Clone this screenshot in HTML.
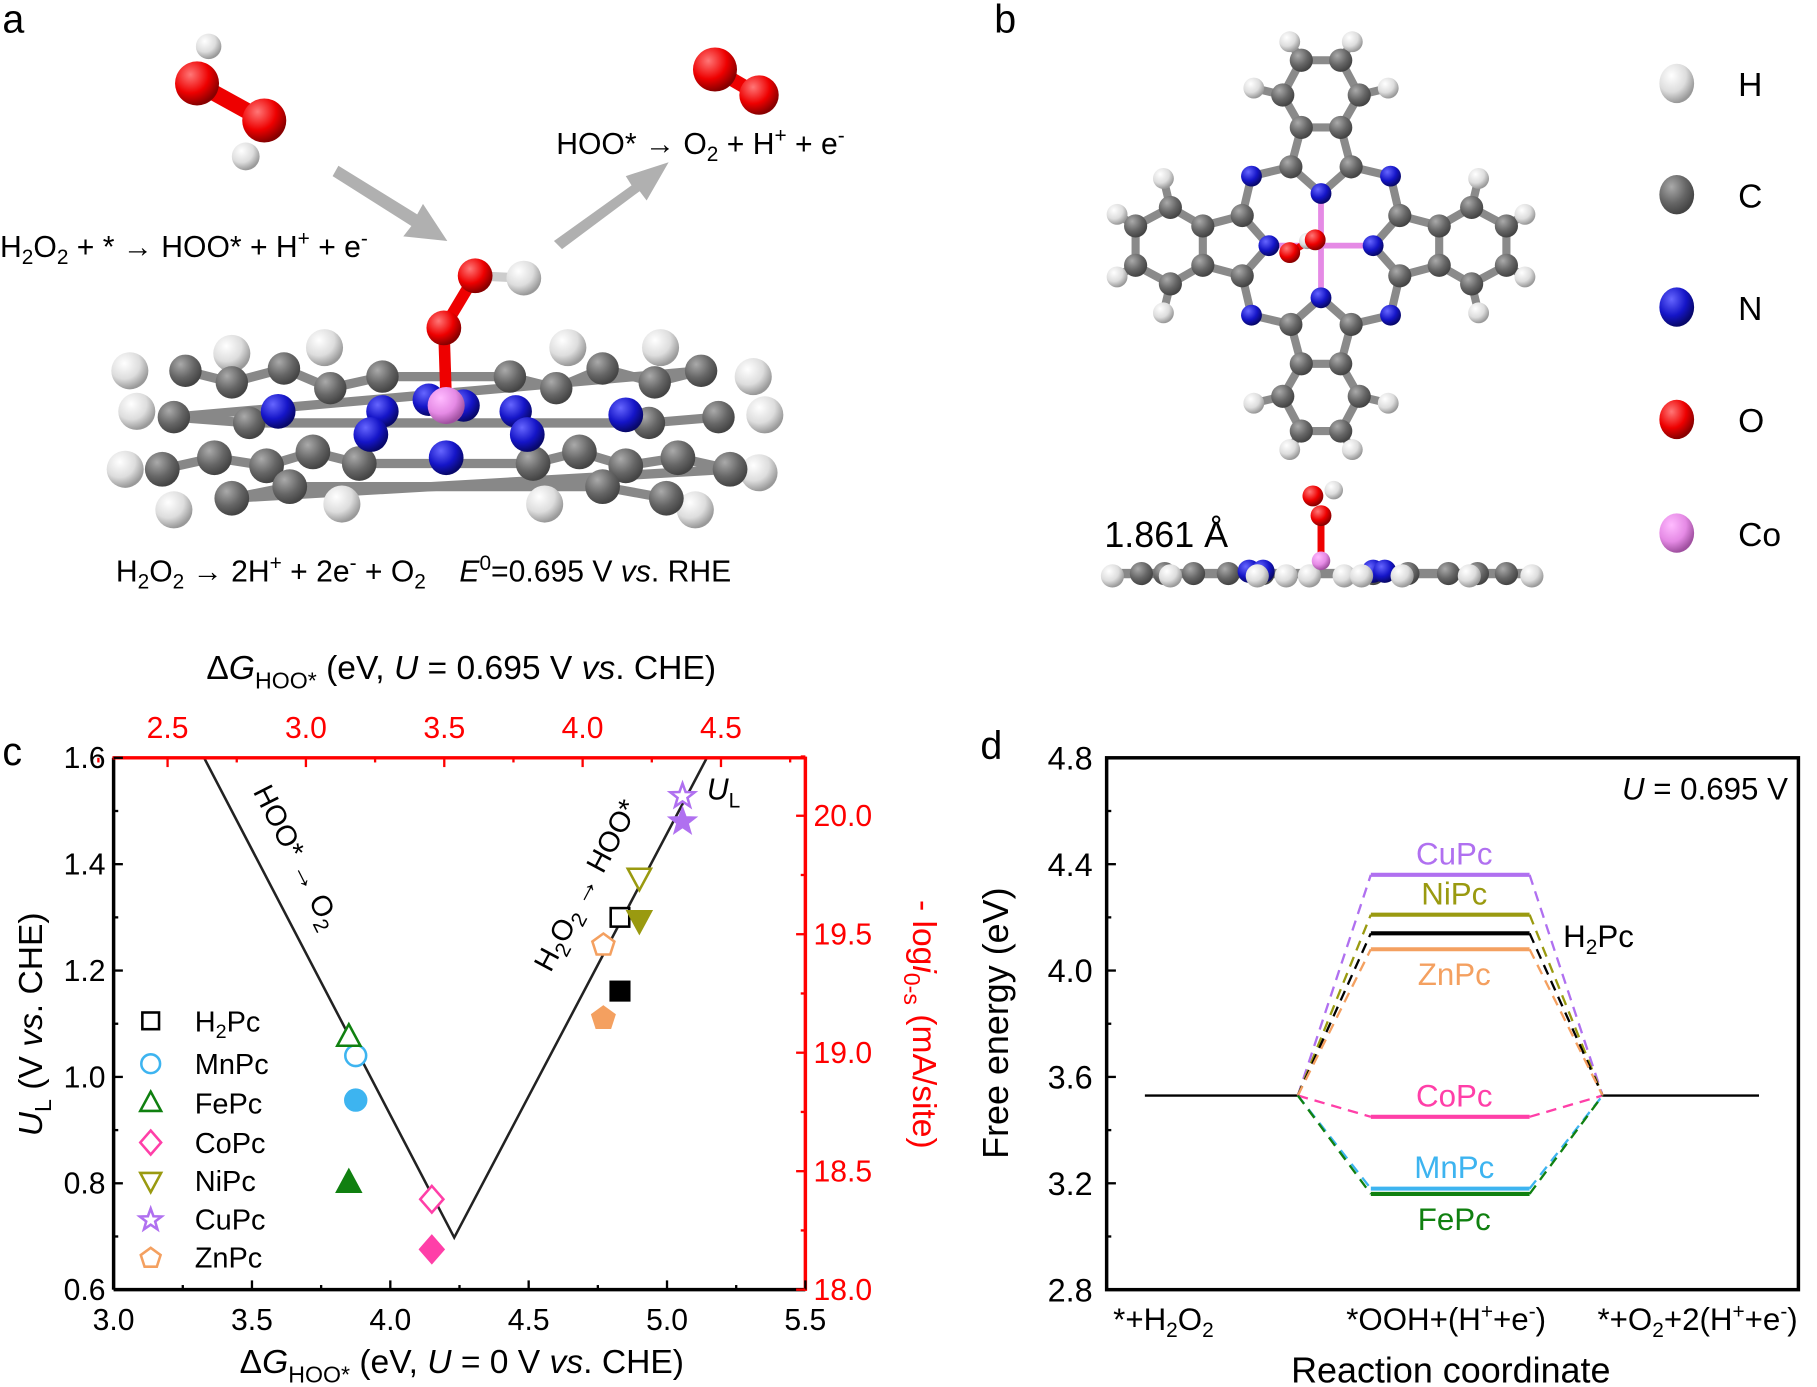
<!DOCTYPE html>
<html><head><meta charset="utf-8"><style>
html,body{margin:0;padding:0;background:#fff}
svg{display:block;font-family:"Liberation Sans",Arial,sans-serif}
</style></head><body>
<svg id="fig" width="1817" height="1387" viewBox="0 0 1568 1197" xmlns="http://www.w3.org/2000/svg">
<defs>
<radialGradient id="gH" cx="35%" cy="30%" r="70%"><stop offset="0" stop-color="#fff"/><stop offset="0.6" stop-color="#ddd"/><stop offset="1" stop-color="#999"/></radialGradient>
<radialGradient id="gC" cx="35%" cy="30%" r="70%"><stop offset="0" stop-color="#aaa"/><stop offset="0.6" stop-color="#666"/><stop offset="1" stop-color="#444"/></radialGradient>
<radialGradient id="gN" cx="35%" cy="30%" r="70%"><stop offset="0" stop-color="#66f"/><stop offset="0.6" stop-color="#1515c8"/><stop offset="1" stop-color="#08086a"/></radialGradient>
<radialGradient id="gO" cx="35%" cy="30%" r="70%"><stop offset="0" stop-color="#f77"/><stop offset="0.6" stop-color="#e00"/><stop offset="1" stop-color="#800"/></radialGradient>
<radialGradient id="gCo" cx="35%" cy="30%" r="70%"><stop offset="0" stop-color="#fbf"/><stop offset="0.6" stop-color="#e58ae5"/><stop offset="1" stop-color="#a050a0"/></radialGradient>
</defs>
<g id="pa"></g>
<g id="pb"></g>
<g id="pc"></g>
<g id="pd"></g>
</svg>
<script>
const NS="http://www.w3.org/2000/svg";
function mk(p,tag,at,txt){const e=document.createElementNS(NS,tag);for(const k in at)e.setAttribute(k,at[k]);if(txt!==undefined)e.innerHTML=txt;p.appendChild(e);return e;}
function ball(p,x,y,r,g){return mk(p,'circle',{cx:x,cy:y,r:r,fill:'url(#'+g+')'});}
function bond(p,x1,y1,x2,y2,c,w){return mk(p,'line',{x1,y1,x2,y2,stroke:c||'#808080','stroke-width':w||7});}

/* ---------- Panel a ---------- */
const pa=document.getElementById('pa');
let t=mk(pa,'text',{x:2,y:28,'font-size':34},'a');


bond(pa,170,72,228,104,'#e00',14);
ball(pa,180,40,11,'gH');ball(pa,212,135,12,'gH');
ball(pa,170,72,19,'gO');ball(pa,228,104,19,'gO');
bond(pa,617,60,655,82,'#e00',12);
ball(pa,617,60,19,'gO');ball(pa,655,82,17,'gO');
mk(pa,'polygon',{points:'292,143 360,185 365,176 386,208 348,204 355,195 287,152',fill:'#b0b0b0'});
mk(pa,'polygon',{points:'478,208 545,160 540,152 577,140 558,173 552,165 485,215',fill:'#b0b0b0'});
t=mk(pa,'text',{x:0,y:222,'font-size':26},'H<tspan dy="6" font-size="18">2</tspan><tspan dy="-6">O</tspan><tspan dy="6" font-size="18">2</tspan><tspan dy="-6"> + * → HOO* + H</tspan><tspan dy="-10" font-size="18">+</tspan><tspan dy="10"> + e</tspan><tspan dy="-10" font-size="18">-</tspan>');


t=mk(pa,'text',{x:480,y:133,'font-size':26},'HOO* → O<tspan dy="6" font-size="18">2</tspan><tspan dy="-6"> + H</tspan><tspan dy="-10" font-size="18">+</tspan><tspan dy="10"> + e</tspan><tspan dy="-10" font-size="18">-</tspan>');


t=mk(pa,'text',{x:100,y:502,'font-size':26},'H<tspan dy="6" font-size="18">2</tspan><tspan dy="-6">O</tspan><tspan dy="6" font-size="18">2</tspan><tspan dy="-6"> → 2H</tspan><tspan dy="-10" font-size="18">+</tspan><tspan dy="10"> + 2e</tspan><tspan dy="-10" font-size="18">-</tspan><tspan dy="10"> + O</tspan><tspan dy="6" font-size="18">2</tspan><tspan dy="-6" xml:space="preserve">    </tspan><tspan font-style="italic">E</tspan><tspan dy="-10" font-size="18">0</tspan><tspan dy="10">=0.695 V </tspan><tspan font-style="italic">vs</tspan><tspan>. RHE</tspan>');


const sv=mk(pa,'g',{});


const backC=[[160,320],[200,330],[245,318],[285,335],[330,325],[440,325],[480,335],[520,318],[565,330],[605,320],[150,360],[215,365],[560,365],[620,360]];
const frontC=[[140,405],[185,395],[230,402],[270,390],[310,400],[460,400],[500,390],[540,402],[585,395],[630,405],[200,430],[250,420],[520,420],[575,430]];
backC.forEach((p,i)=>{if(i<backC.length-1)bond(sv,p[0],p[1],backC[i+1][0],backC[i+1][1],'#888',8);});
frontC.forEach((p,i)=>{if(i<frontC.length-1)bond(sv,p[0],p[1],frontC[i+1][0],frontC[i+1][1],'#888',8);});
[[112,320],[118,355],[108,405],[150,440],[200,305],[280,300],[490,300],[570,300],[650,325],[660,358],[655,408],[600,440],[295,435],[470,435]].forEach(p=>ball(sv,p[0],p[1],16,'gH'));
backC.forEach(p=>ball(sv,p[0],p[1],14,'gC'));
[[370,345],[400,350],[330,355],[445,355]].forEach(p=>ball(sv,p[0],p[1],14,'gN'));
frontC.forEach(p=>ball(sv,p[0],p[1],15,'gC'));
[[240,355],[320,375],[455,375],[540,358],[385,395]].forEach(p=>ball(sv,p[0],p[1],15,'gN'));
bond(sv,383,283,385,345,'#e00',10);
ball(sv,385,350,16,'gCo');
bond(sv,383,283,410,238,'#e00',10);bond(sv,410,238,452,240,'#ccc',8);
ball(sv,452,240,15,'gH');ball(sv,410,238,15,'gO');ball(sv,383,283,15,'gO');

/* ---------- Panel b ---------- */
const pb=document.getElementById('pb');
t=mk(pb,'text',{x:858,y:28,'font-size':34},'b');


const mol=mk(pb,'g',{});


const cx0=1140,cy0=212;
function P(k,u,v){const a=[[0,-1],[1,0],[0,1],[-1,0]][k];return [cx0+a[0]*u-a[1]*v, cy0+a[1]*u+a[0]*v];}
const balls=[];
for(let k=0;k<4;k++){
 const Np=P(k,45,0),a1=P(k,68,-26),a2=P(k,68,26),b1=P(k,102,-17),b2=P(k,102,17),
 c1=P(k,130,-33),c2=P(k,130,33),d1=P(k,160,-17),d2=P(k,160,17),
 h1=P(k,136,-58),h2=P(k,136,58),h3=P(k,176,-27),h4=P(k,176,27);
 const Nm=P(k,60,60);
 [[Np,a1],[Np,a2],[a1,b1],[a2,b2],[b1,b2],[b1,c1],[b2,c2],[c1,d1],[c2,d2],[d1,d2],[c1,h1],[c2,h2],[d1,h3],[d2,h4],[a2,Nm],[Nm,P((k+1)%4,68,-26)]].forEach(q=>bond(mol,q[0][0],q[0][1],q[1][0],q[1][1],'#8a8a8a',7));
 bond(mol,cx0,cy0,Np[0],Np[1],'#e58ae5',5);
 [h1,h2,h3,h4].forEach(q=>balls.push([q,9,'gH']));
 [a1,a2,b1,b2,c1,c2,d1,d2].forEach(q=>balls.push([q,10,'gC']));
 balls.push([Np,9,'gN']);balls.push([Nm,9,'gN']);
}
balls.forEach(b=>ball(mol,b[0][0],b[0][1],b[1],b[2]));
bond(mol,1113,218,1130,208,'#e00',6);
ball(mol,1128,208,7,'gH');ball(mol,1113,218,9,'gO');ball(mol,1135,207,9,'gO');
const sb=mk(pb,'g',{});


bond(sb,960,495,1322,495,'#888',8);
[985,1005,1030,1060,1090,1185,1215,1250,1275,1300].forEach(x=>ball(sb,x,495,10,'gC'));
[1078,1090,1185,1195].forEach(x=>ball(sb,x,493,10,'gN'));
[960,1010,1085,1110,1130,1160,1175,1210,1268,1322].forEach(x=>ball(sb,x,497,10,'gH'));
bond(sb,1140,490,1140,440,'#e00',6);
ball(sb,1140,484,8,'gCo');ball(sb,1140,445,9,'gO');ball(sb,1133,428,9,'gO');ball(sb,1151,423,8,'gH');
t=mk(pb,'text',{x:953,y:472,'font-size':31},'1.861 Å');


const elems=['H','C','N','O','Co'],grads=['gH','gC','gN','gO','gCo'],ely=[72,168,265,362,460];
elems.forEach((e,i)=>{
 const g=mk(pb,'g',{});
 
 
 mk(g,'ellipse',{cx:1447,cy:ely[i],rx:15,ry:17,fill:'url(#'+grads[i]+')'});
 mk(g,'text',{x:1500,y:ely[i]+11,'font-size':29},e);
});

/* ---------- Panel c data ---------- */
const catalysts=['H2Pc','MnPc','FePc','CoPc','NiPc','CuPc','ZnPc'];
const dG=[4.83,3.875,3.85,4.15,4.90,5.056,4.77];
const UL=[1.30,1.04,1.075,0.77,1.375,1.53,1.25];
const logI=[19.26,18.80,18.45,18.17,19.56,19.98,19.15];
const volcanoX=[3.327,4.231,5.144];
const volcanoY=[1.6,0.698,1.6];
const xTicks=[3.0,3.5,4.0,4.5,5.0,5.5];
const yTicks=[0.6,0.8,1.0,1.2,1.4,1.6];
const topTicks=[2.5,3.0,3.5,4.0,4.5];
const rightTicks=[18.0,18.5,19.0,19.5,20.0];

const pc=document.getElementById('pc');
const cL=98,cR=695,cT=654,cB=1113;
const xs=v=>cL+(v-3.0)/2.5*(cR-cL);
const ys=v=>cB-(v-0.6)/1.0*(cB-cT);
const xt=v=>xs(v+0.695);
const yr=v=>cB-(v-18.0)/(20.0-18.0)*(cB-704);
t=mk(pc,'text',{x:2,y:660,'font-size':34},'c');


const vl=mk(pc,'polyline',{points:volcanoX.map((x,i)=>xs(x)+','+ys(volcanoY[i])).join(' '),fill:'none',stroke:'#222','stroke-width':2.2});


let ax=mk(pc,'line',{x1:cL,y1:cB,x2:cR,y2:cB,stroke:'#000','stroke-width':3});


ax=mk(pc,'line',{x1:cL,y1:cT,x2:cL,y2:cB,stroke:'#000','stroke-width':3});


ax=mk(pc,'line',{x1:cL-1,y1:cT,x2:cR,y2:cT,stroke:'#f00','stroke-width':3});


ax=mk(pc,'line',{x1:cR,y1:cT-1,x2:cR,y2:cB+1,stroke:'#f00','stroke-width':3});


xTicks.forEach((v,i)=>{
 mk(pc,'line',{x1:xs(v),y1:cB,x2:xs(v),y2:cB-8,stroke:'#000','stroke-width':2});
 if(i<xTicks.length-1)mk(pc,'line',{x1:xs(v+0.25),y1:cB,x2:xs(v+0.25),y2:cB-4,stroke:'#000','stroke-width':2});
 const l=mk(pc,'text',{x:xs(v),y:cB+35,'font-size':26,'text-anchor':'middle'},v.toFixed(1));
 
 
});
yTicks.forEach((v,i)=>{
 mk(pc,'line',{x1:cL,y1:ys(v),x2:cL+8,y2:ys(v),stroke:'#000','stroke-width':2});
 if(i<yTicks.length-1)mk(pc,'line',{x1:cL,y1:ys(v+0.1),x2:cL+4,y2:ys(v+0.1),stroke:'#000','stroke-width':2});
 const l=mk(pc,'text',{x:cL-7,y:ys(v)+9,'font-size':26,'text-anchor':'end'},v.toFixed(1));
 
 
});
topTicks.forEach(v=>{
 mk(pc,'line',{x1:xt(v),y1:cT,x2:xt(v),y2:cT+8,stroke:'#f00','stroke-width':2});
 mk(pc,'line',{x1:xt(v+0.25),y1:cT,x2:xt(v+0.25),y2:cT+4,stroke:'#f00','stroke-width':2});
 const l=mk(pc,'text',{x:xt(v),y:cT-17,'font-size':26,'text-anchor':'middle',fill:'#f00'},v.toFixed(1));
 
 
});
mk(pc,'line',{x1:xt(2.25),y1:cT,x2:xt(2.25),y2:cT+4,stroke:'#f00','stroke-width':2});
rightTicks.forEach(v=>{
 mk(pc,'line',{x1:cR,y1:yr(v),x2:cR-8,y2:yr(v),stroke:'#f00','stroke-width':2});
 mk(pc,'line',{x1:cR,y1:yr(v+0.25),x2:cR-4,y2:yr(v+0.25),stroke:'#f00','stroke-width':2});
 const l=mk(pc,'text',{x:cR+7,y:yr(v)+9,'font-size':26,fill:'#f00'},v.toFixed(1));
 
 
});
t=mk(pc,'text',{x:cL+(cR-cL)/2+2,y:1185,'font-size':29,'text-anchor':'middle'},'Δ<tspan font-style="italic">G</tspan><tspan dy="8" font-size="20">HOO*</tspan><tspan dy="-8"> (eV, </tspan><tspan font-style="italic">U</tspan><tspan> = 0 V </tspan><tspan font-style="italic">vs</tspan><tspan>. CHE)</tspan>');


t=mk(pc,'text',{x:398,y:586,'font-size':29,'text-anchor':'middle'},'Δ<tspan font-style="italic">G</tspan><tspan dy="8" font-size="20">HOO*</tspan><tspan dy="-8"> (eV, </tspan><tspan font-style="italic">U</tspan><tspan> = 0.695 V </tspan><tspan font-style="italic">vs</tspan><tspan>. CHE)</tspan>');


t=mk(pc,'text',{transform:'translate(36,884) rotate(-90)','font-size':29,'text-anchor':'middle'},'<tspan font-style="italic">U</tspan><tspan dy="8" font-size="20">L</tspan><tspan dy="-8"> (V </tspan><tspan font-style="italic">vs</tspan><tspan>. CHE)</tspan>');


t=mk(pc,'text',{transform:'translate(788,884) rotate(90)','font-size':29,'text-anchor':'middle',fill:'#f00'},'- log<tspan font-style="italic">i</tspan><tspan dy="8" font-size="20">0-s</tspan><tspan dy="-8"> (mA/site)</tspan>');


t=mk(pc,'text',{transform:'translate(218,683) rotate(63)','font-size':25},'HOO* → O<tspan dy="6" font-size="18">2</tspan>');


t=mk(pc,'text',{transform:'translate(475,840) rotate(-62)','font-size':25},'H<tspan dy="6" font-size="18">2</tspan><tspan dy="-6">O</tspan><tspan dy="6" font-size="18">2</tspan><tspan dy="-6"> → HOO*</tspan>');


t=mk(pc,'text',{x:610,y:690,'font-size':26},'<tspan font-style="italic">U</tspan><tspan dy="7" font-size="18">L</tspan>');



const colors=['#000','#3db4f0','#108010','#ff3fa8','#9a9a10','#b070f0','#f4a060'];
const shapes=['square','circle','tri','diamond','dtri','star','pent'];
function marker(p,shape,x,y,s,col,filled){
 const st={fill:filled?col:'#fff',stroke:col,'stroke-width':2.2};
 let pts;
 if(shape==='square')return mk(p,'rect',Object.assign({x:x-s*0.8,y:y-s*0.8,width:s*1.6,height:s*1.6},st));
 if(shape==='circle')return mk(p,'circle',Object.assign({cx:x,cy:y,r:s*0.9},st));
 if(shape==='tri')pts=[[0,-1.1],[1,0.75],[-1,0.75]];
 if(shape==='dtri')pts=[[0,1.1],[1,-0.75],[-1,-0.75]];
 if(shape==='diamond')pts=[[0,-1.15],[1.0,0],[0,1.15],[-1.0,0]];
 if(shape==='pent'){pts=[];for(let i=0;i<5;i++){const a=-Math.PI/2+i*2*Math.PI/5;pts.push([Math.cos(a),Math.sin(a)+0.1]);}}
 if(shape==='star'){pts=[];for(let i=0;i<10;i++){const a=-Math.PI/2+i*Math.PI/5,r=i%2?0.45:1.1;pts.push([r*Math.cos(a),r*Math.sin(a)+0.1]);}}
 return mk(p,'polygon',Object.assign({points:pts.map(q=>(x+q[0]*s)+','+(y+q[1]*s)).join(' ')},st));
}
catalysts.forEach((c,i)=>{
 const m1=marker(pc,shapes[i],xs(dG[i]),ys(UL[i]),10,colors[i],false);
 
 
 const m2=marker(pc,shapes[i],xs(dG[i]),yr(logI[i]),10,colors[i],true);
 
 
});
const legY=[881,918,952,986,1019,1052,1085];
const legLabels=['H<tspan dy="6" font-size="17">2</tspan><tspan dy="-6">Pc</tspan>','MnPc','FePc','CoPc','NiPc','CuPc','ZnPc'];
catalysts.forEach((c,i)=>{
 const g=mk(pc,'g',{});
 
 
 marker(g,shapes[i],130,legY[i],9,colors[i],false);
 mk(g,'text',{x:168,y:legY[i]+9,'font-size':25},legLabels[i]);
});

/* ---------- Panel d data ---------- */
const dCats=['CuPc','NiPc','H2Pc','ZnPc','CoPc','MnPc','FePc'];
const dLevels=[4.36,4.21,4.14,4.08,3.45,3.18,3.16];
const baseLevel=3.53;
const dYTicks=[2.8,3.2,3.6,4.0,4.4,4.8];
const dColors=['#b070f0','#9a9a10','#000','#f4a060','#ff3fa8','#3db4f0','#108010'];
const dLabelPos=['above','above','right','below','above','above','below'];

const pd=document.getElementById('pd');
const dL=955,dR=1552,dT=654,dB=1113;
const yd=v=>dB-(v-2.8)/2.0*(dB-dT);
t=mk(pd,'text',{x:846,y:655,'font-size':34},'d');


const fr=mk(pd,'rect',{x:dL,y:dT,width:dR-dL,height:dB-dT,fill:'none',stroke:'#000','stroke-width':3});


dYTicks.forEach((v,i)=>{
 mk(pd,'line',{x1:dL,y1:yd(v),x2:dL+8,y2:yd(v),stroke:'#000','stroke-width':2});
 if(i<dYTicks.length-1)mk(pd,'line',{x1:dL,y1:yd(v+0.2),x2:dL+4,y2:yd(v+0.2),stroke:'#000','stroke-width':2});
 const l=mk(pd,'text',{x:dL-12,y:yd(v)+10,'font-size':28,'text-anchor':'end'},v.toFixed(1));
 
 
});
const x1a=988,x1b=1120,x2a=1183,x2b=1320,x3a=1383,x3b=1518;
let bl=mk(pd,'line',{x1:x1a,y1:yd(baseLevel),x2:x1b,y2:yd(baseLevel),stroke:'#000','stroke-width':2});


bl=mk(pd,'line',{x1:x3a,y1:yd(baseLevel),x2:x3b,y2:yd(baseLevel),stroke:'#000','stroke-width':2});


dCats.forEach((c,i)=>{
 const y=yd(dLevels[i]),col=dColors[i];
 const d1=mk(pd,'line',{x1:x1b,y1:yd(baseLevel),x2:x2a,y2:y,stroke:col,'stroke-width':2,'stroke-dasharray':'9,6'});
 
 
 const d2=mk(pd,'line',{x1:x2b,y1:y,x2:x3a,y2:yd(baseLevel),stroke:col,'stroke-width':2,'stroke-dasharray':'9,6'});
 
 
});
dCats.forEach((c,i)=>{
 const y=yd(dLevels[i]),col=dColors[i];
 const lv=mk(pd,'line',{x1:x2a,y1:y,x2:x2b,y2:y,stroke:col,'stroke-width':3.5});
 
 
 let lab;
 const txt=c==='H2Pc'?'H<tspan dy="6" font-size="18">2</tspan><tspan dy="-6">Pc</tspan>':c;
 if(dLabelPos[i]==='above')lab=mk(pd,'text',{x:1255,y:y-9,'font-size':27,'text-anchor':'middle',fill:col},txt);
 else if(dLabelPos[i]==='below')lab=mk(pd,'text',{x:1255,y:y+31,'font-size':27,'text-anchor':'middle',fill:col},txt);
 else lab=mk(pd,'text',{x:1349,y:y+12,'font-size':27,fill:col},txt);
 
 
});
t=mk(pd,'text',{x:1543,y:690,'font-size':27,'text-anchor':'end'},'<tspan font-style="italic">U</tspan> = 0.695 V');


const xlabs=[[1004,'*+H<tspan dy="6" font-size="18">2</tspan><tspan dy="-6">O</tspan><tspan dy="6" font-size="18">2</tspan>'],[1248,'*OOH+(H<tspan dy="-10" font-size="18">+</tspan><tspan dy="10">+e</tspan><tspan dy="-10" font-size="18">-</tspan><tspan dy="10">)</tspan>'],[1465,'*+O<tspan dy="6" font-size="18">2</tspan><tspan dy="-6">+2(H</tspan><tspan dy="-10" font-size="18">+</tspan><tspan dy="10">+e</tspan><tspan dy="-10" font-size="18">-</tspan><tspan dy="10">)</tspan>']];
xlabs.forEach((l,i)=>{
 const e=mk(pd,'text',{x:l[0],y:1148,'font-size':27,'text-anchor':'middle'},l[1]);
 
 
});
t=mk(pd,'text',{x:1252,y:1193,'font-size':31,'text-anchor':'middle'},'Reaction coordinate');


t=mk(pd,'text',{transform:'translate(870,883) rotate(-90)','font-size':31,'text-anchor':'middle'},'Free energy (eV)');


</script>
</body></html>
